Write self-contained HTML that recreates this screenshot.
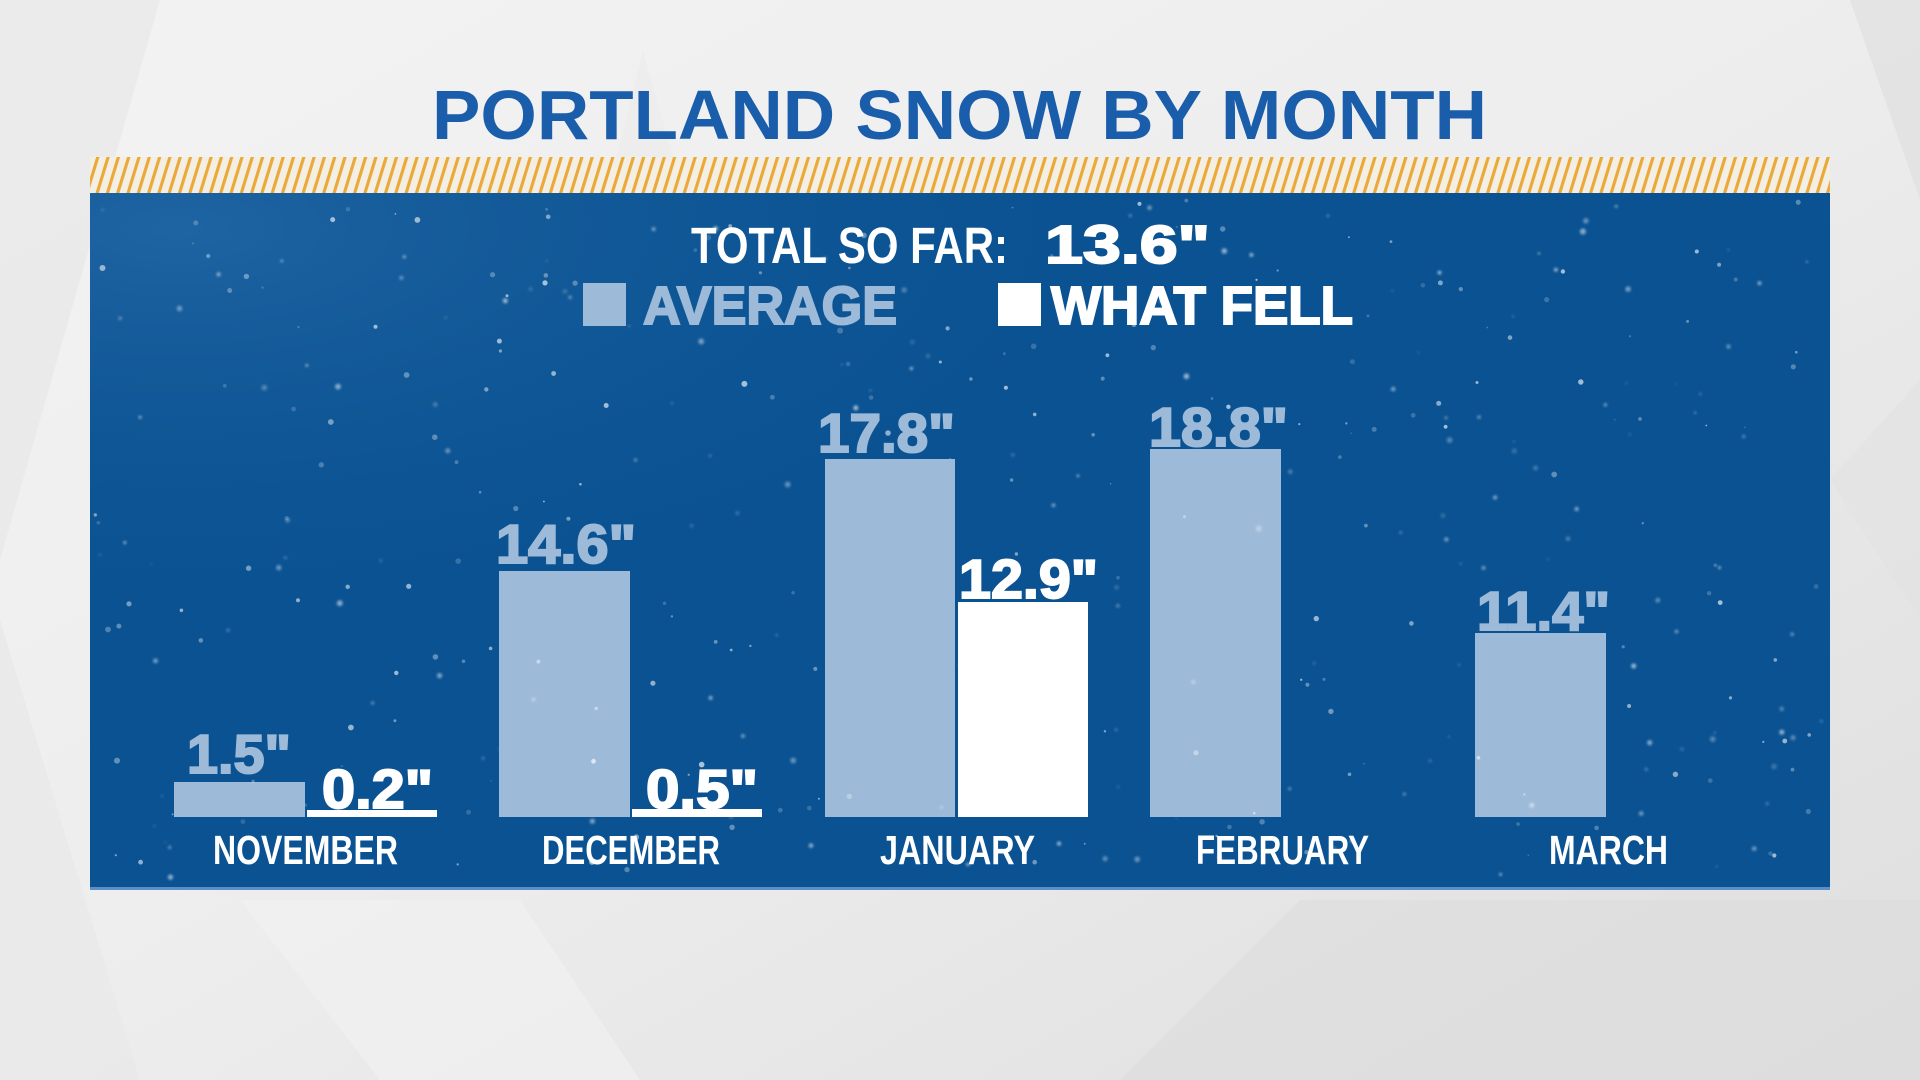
<!DOCTYPE html>
<html>
<head>
<meta charset="utf-8">
<style>
  html,body{margin:0;padding:0;width:1920px;height:1080px;overflow:hidden;background:#ececec;}
  svg{display:block;}
  text{font-family:"Liberation Sans", "DejaVu Sans", sans-serif;font-weight:bold;}
</style>
</head>
<body>
<svg id="chart" width="1920" height="1080" viewBox="0 0 1920 1080" xmlns="http://www.w3.org/2000/svg">
  <defs>
    <linearGradient id="bg" x1="0" y1="0" x2="1" y2="1">
      <stop offset="0" stop-color="#f3f3f3"/>
      <stop offset="0.5" stop-color="#ededed"/>
      <stop offset="1" stop-color="#dedede"/>
    </linearGradient>
    <radialGradient id="panelGlow" cx="0.05" cy="0.05" r="0.6">
      <stop offset="0" stop-color="#2166a4" stop-opacity="0.9"/>
      <stop offset="1" stop-color="#0a5292" stop-opacity="0"/>
    </radialGradient>
    <pattern id="stripes" patternUnits="userSpaceOnUse" width="10.3" height="40" patternTransform="skewX(-17)">
      <rect x="0" y="0" width="10.3" height="40" fill="#f4efe4"/>
      <rect x="0" y="0" width="3.3" height="40" fill="#eaa938"/>
    </pattern>
    <filter id="blur1" x="-2" y="-2" width="5" height="5"><feGaussianBlur stdDeviation="1.2"/></filter>
  </defs>

  <!-- background -->
  <rect x="0" y="0" width="1920" height="1080" fill="url(#bg)"/>
  <polygon points="0,0 160,0 0,560" fill="#e6e6e6" opacity="0.6"/>
  <polygon points="643,52 540,460 760,460" fill="#e9e9e9" opacity="0.5"/>
  <polygon points="0,620 140,1080 0,1080" fill="#e8e8e8" opacity="0.7"/>
  <polygon points="240,900 520,900 640,1080 380,1080" fill="#f2f2f2" opacity="0.6"/>
  <polygon points="1300,900 1920,900 1920,1080 1120,1080" fill="#dcdcdc" opacity="0.6"/>
  <polygon points="1830,480 1920,380 1920,620" fill="#e2e2e2" opacity="0.7"/>
  <polygon points="1850,0 1920,0 1920,200" fill="#dedede" opacity="0.6"/>

  <!-- title -->
  <text x="432" y="139" font-size="70" fill="#1a5dab" textLength="1055" lengthAdjust="spacingAndGlyphs">PORTLAND SNOW BY MONTH</text>

  <!-- stripe band -->
  <rect x="90" y="157" width="1740" height="36" fill="url(#stripes)"/>

  <!-- panel -->
  <rect x="90" y="193" width="1740" height="697" fill="#0a5292"/>
  <rect x="90" y="193" width="1740" height="697" fill="url(#panelGlow)"/>
  <rect x="90" y="887" width="1740" height="3" fill="#5b8fc6"/>

  <g id="snow"></g>

  <!-- header -->
  <text x="691" y="263" font-size="51" fill="#ffffff" textLength="317" lengthAdjust="spacingAndGlyphs">TOTAL SO FAR:</text>
  <text x="1045" y="263" font-size="54" fill="#ffffff" stroke="#ffffff" stroke-width="2" textLength="165" lengthAdjust="spacingAndGlyphs">13.6"</text>

  <!-- legend -->
  <rect x="583" y="283" width="43" height="43" fill="#9dbbd8"/>
  <text x="643" y="324" font-size="54" fill="#9dbbd8" stroke="#9dbbd8" stroke-width="2" textLength="254" lengthAdjust="spacingAndGlyphs">AVERAGE</text>
  <rect x="998" y="283" width="43" height="43" fill="#ffffff"/>
  <text x="1051" y="324" font-size="54" fill="#ffffff" stroke="#ffffff" stroke-width="2" textLength="302" lengthAdjust="spacingAndGlyphs">WHAT FELL</text>

  <!-- bars -->
  <g fill="#9dbbd8">
    <rect x="174" y="782" width="131" height="35"/>
    <rect x="499" y="571" width="131" height="246"/>
    <rect x="825" y="459" width="130" height="358"/>
    <rect x="1150" y="449" width="131" height="368"/>
    <rect x="1475" y="633" width="131" height="184"/>
  </g>
  <g fill="#ffffff">
    <rect x="307" y="810" width="130" height="7"/>
    <rect x="632" y="809" width="130" height="8"/>
    <rect x="958" y="602" width="130" height="215"/>
  </g>

  <g id="snow2"></g>

  <!-- value labels -->
  <g font-size="55" stroke-width="2">
    <text x="187" y="773" fill="#9dbbd8" stroke="#9dbbd8" textLength="104" lengthAdjust="spacingAndGlyphs">1.5"</text>
    <text x="322" y="808" fill="#ffffff" stroke="#ffffff" textLength="111" lengthAdjust="spacingAndGlyphs">0.2"</text>
    <text x="496" y="563" fill="#9dbbd8" stroke="#9dbbd8" textLength="140" lengthAdjust="spacingAndGlyphs">14.6"</text>
    <text x="646" y="808" fill="#ffffff" stroke="#ffffff" textLength="112" lengthAdjust="spacingAndGlyphs">0.5"</text>
    <text x="818" y="452" fill="#9dbbd8" stroke="#9dbbd8" textLength="137" lengthAdjust="spacingAndGlyphs">17.8"</text>
    <text x="959" y="598" fill="#ffffff" stroke="#ffffff" textLength="139" lengthAdjust="spacingAndGlyphs">12.9"</text>
    <text x="1149" y="446" fill="#9dbbd8" stroke="#9dbbd8" textLength="139" lengthAdjust="spacingAndGlyphs">18.8"</text>
    <text x="1477" y="630" fill="#9dbbd8" stroke="#9dbbd8" textLength="133" lengthAdjust="spacingAndGlyphs">11.4"</text>
  </g>

  <!-- month labels -->
  <g font-size="41" fill="#ffffff">
    <text x="213" y="864" textLength="185" lengthAdjust="spacingAndGlyphs">NOVEMBER</text>
    <text x="542" y="864" textLength="178" lengthAdjust="spacingAndGlyphs">DECEMBER</text>
    <text x="880" y="864" textLength="155" lengthAdjust="spacingAndGlyphs">JANUARY</text>
    <text x="1196" y="864" textLength="173" lengthAdjust="spacingAndGlyphs">FEBRUARY</text>
    <text x="1549" y="864" textLength="119" lengthAdjust="spacingAndGlyphs">MARCH</text>
  </g>
</svg>
<script>
(function(){
  var seed = 12345;
  function rnd(){ seed = (seed * 1103515245 + 12345) & 0x7fffffff; return seed / 0x7fffffff; }
  var ns = "http://www.w3.org/2000/svg";
  var g = document.getElementById("snow");
  var g2 = document.getElementById("snow2");
  for (var i = 0; i < 420; i++) {
    var c = document.createElementNS(ns, "circle");
    var x = 95 + rnd() * 1730;
    var y = 198 + rnd() * 685;
    var r = 0.8 + rnd() * 2.2;
    c.setAttribute("cx", x.toFixed(1));
    c.setAttribute("cy", y.toFixed(1));
    c.setAttribute("r", r.toFixed(1));
    c.setAttribute("fill", "#ffffff");
    c.setAttribute("opacity", (0.15 + rnd() * 0.5).toFixed(2));
    if (rnd() < 0.4) c.setAttribute("filter", "url(#blur1)");
    (i % 4 === 0 ? g2 : g).appendChild(c);
  }
})();
</script>
</body>
</html>
